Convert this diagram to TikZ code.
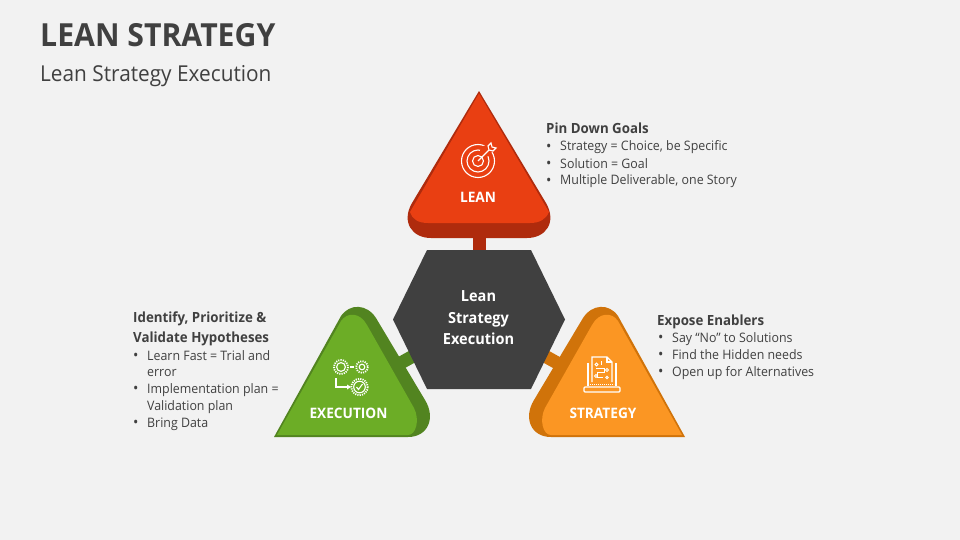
\documentclass[tikz,border=0pt]{standalone}
\usepackage{fontspec}
\setmainfont[FakeStretch=0.95]{Open Sans}
\definecolor{bgcol}{HTML}{F2F2F2}
\definecolor{inkcol}{HTML}{404040}
\definecolor{leanfront}{HTML}{E93F12}
\definecolor{leanback}{HTML}{AF2B0D}
\definecolor{execfront}{HTML}{6CAD26}
\definecolor{execback}{HTML}{528420}
\definecolor{stratfront}{HTML}{FB9623}
\definecolor{stratback}{HTML}{D0730A}
\tikzset{
	head/.style={text=inkcol,anchor=base west,inner sep=0pt,font=\fontsize{14}{19}\selectfont\bfseries,align=left},
	item/.style={text=inkcol,anchor=base west,inner sep=0pt,font=\fontsize{13.05}{17}\selectfont},
	tag/.style={text=white,inner sep=0pt,font=\fontsize{14.4}{19}\selectfont\bfseries},
	icon/.style={draw=white,line width=1.1pt,fill=none},
	gear/.style={draw=white,line width=1.8pt,dash pattern=on 1.2pt off 1.1pt},
	stem/.style={line width=13pt}
}
\newcommand{\bul}{\makebox[14pt][l]{\raisebox{-0.3pt}{\fontsize{15}{17}\selectfont •}}}
\newcommand{\nobul}{\makebox[14pt][l]{}}
\begin{document}
\begin{tikzpicture}[x=1pt,y=-1pt]
	\useasboundingbox (0,0) rectangle (960,540);
	\fill[bgcol] (0,0) rectangle (960,540);
	% titles
	\node[anchor=base west,inner sep=0pt,text=inkcol,font=\fontsize{31.8}{38}\selectfont\bfseries] (title) at (40,46.5) {LEAN STRATEGY};
	\node[anchor=base west,inner sep=0pt,text=inkcol,font=\fontsize{21.9}{26}\selectfont] (subtitle) at (40,81.5) {Lean Strategy Execution};
	% anchors of the stems
	\coordinate (hubc) at (479,319.5);
	\coordinate (leanc) at (479,200);
	\coordinate (execc) at (352,390);
	\coordinate (stratc) at (606,390);
	\draw[stem,leanback] (leanc) -- (hubc);
	\draw[stem,execback] (execc) -- (hubc);
	\draw[stem,stratback] (stratc) -- (hubc);
	% lean triangle
	\fill[leanback] (479,91) -- (546,203) .. controls (557,222) and (546,238) .. (527,238) -- (431,238) .. controls (412,238) and (401,222) .. (412,203) -- cycle;
	\fill[leanfront] (479,93.5) -- (549,212) .. controls (546,219) and (540,223) .. (530,223) -- (428,223) .. controls (418,223) and (412,219) .. (410,212) -- cycle;
	% execution triangle
	\fill[execback] (274,437) -- (341,316) .. controls (350,303) and (367,304) .. (376,318) -- (425,400) .. controls (436,418) and (428,437) .. (408,437) -- cycle;
	\fill[execfront] (277,435) -- (341,321) .. controls (347,312) and (360,312) .. (367,325) -- (414,408) .. controls (420,420) and (416,435) .. (408,435) -- cycle;
	% strategy triangle
	\fill[stratback] (685,437) -- (618,316) .. controls (609,303) and (592,304) .. (583,318) -- (534,400) .. controls (523,418) and (531,437) .. (551,437) -- cycle;
	\fill[stratfront] (682,435) -- (618,321) .. controls (612,312) and (599,312) .. (592,325) -- (545,408) .. controls (539,420) and (543,435) .. (551,435) -- cycle;
	% hexagon
	\fill[inkcol] (393,319.5) -- (427,250) -- (531,250) -- (565,319.5) -- (531,389) -- (427,389) -- cycle;
	\node[tag,align=center,font=\fontsize{15.3}{21.5}\selectfont\bfseries] (hub) at (478.5,318) {Lean\\Strategy\\Execution};
	% labels of the triangles
	\node[tag] (lean) at (478,197) {LEAN};
	\node[tag] (execution) at (348.5,413) {EXECUTION};
	\node[tag] (strategy) at (603,413) {STRATEGY};
	% target
	\draw[icon] (478,161) circle (16.5);
	\draw[icon] (478,161) circle (11);
	\draw[icon] (478,161) circle (5.5);
	\draw[icon,fill=leanfront,draw=leanfront,line width=2pt] (486,151) circle (5);
	\draw[icon] (478,161) -- (489,150);
	\draw[icon] (489,150) -- (488,146) -- (491,143) -- (492,147) -- (496,148) -- (493,151) -- cycle;
	% gears
	\draw[gear] (341,367) circle (7);
	\draw[icon] (341,367) circle (4.4);
	\draw[gear] (362,367) circle (5.8);
	\draw[icon] (362,367) circle (2.8);
	\draw[icon] (350,367) -- (354,367);
	\draw[gear] (359.5,387) circle (8.2);
	\draw[icon] (359.5,387) circle (5.8);
	\draw[icon] (356.5,387) -- (358.5,389.5) -- (362.5,384);
	\draw[icon] (336,378) -- (336,387) -- (347,387);
	\fill[white] (351,387) -- (347,384.5) -- (347,389.5) -- cycle;
	% laptop
	\draw[icon] (592,382) -- (592,357) -- (607,357) -- (612,362) -- (612,382);
	\draw[icon] (607,357) -- (607,362) -- (612,362);
	\draw[icon] (588,363) -- (588,386);
	\draw[icon] (616,363) -- (616,386);
	\draw[icon,rounded corners=1pt] (584,387) -- (620,387) -- (620,392) -- (584,392) -- cycle;
	\draw[icon,line width=1.4pt,dash pattern=on 1.2pt off 0.8pt] (590,384.5) -- (614,384.5);
	\draw[icon,line width=0.9pt] (596,368) -- (604,368) -- (604,372) -- (597,372) -- (597,377) -- (603,377);
	\draw[icon,line width=0.9pt] (596.5,364.5) circle (1.4);
	\draw[icon,line width=0.9pt] (607,370) circle (1.6);
	\draw[icon,line width=0.9pt] (596,376) circle (1.5);
	\draw[icon,line width=0.9pt] (607,377.5) circle (1.3);
	\draw[icon,line width=0.9pt] (601,361) -- (601,365);
	% texts
	\node[head] (goals) at (546,134) {Pin Down Goals};
	\node[item] (goals1) at (546,151) {\bul Strategy = Choice, be Specific};
	\node[item] (goals2) at (546,168) {\bul Solution = Goal};
	\node[item] (goals3) at (546,185) {\bul Multiple Deliverable, one Story};
	\node[head] (hypo1) at (133,322.5) {Identify, Prioritize \&};
	\node[head] (hypo2) at (133,342.5) {Validate Hypotheses};
	\node[item] (hypo3) at (133,360) {\bul Learn Fast = Trial and};
	\node[item] (hypo4) at (133,376) {\nobul error};
	\node[item] (hypo5) at (133,393) {\bul Implementation plan =};
	\node[item] (hypo6) at (133,410) {\nobul Validation plan};
	\node[item] (hypo7) at (133,427) {\bul Bring Data};
	\node[head] (enable) at (657,325) {Expose Enablers};
	\node[item] (enable1) at (658,342) {\bul Say “No” to Solutions};
	\node[item] (enable2) at (658,359) {\bul Find the Hidden needs};
	\node[item] (enable3) at (658,376) {\bul Open up for Alternatives};
\end{tikzpicture}
\end{document}
